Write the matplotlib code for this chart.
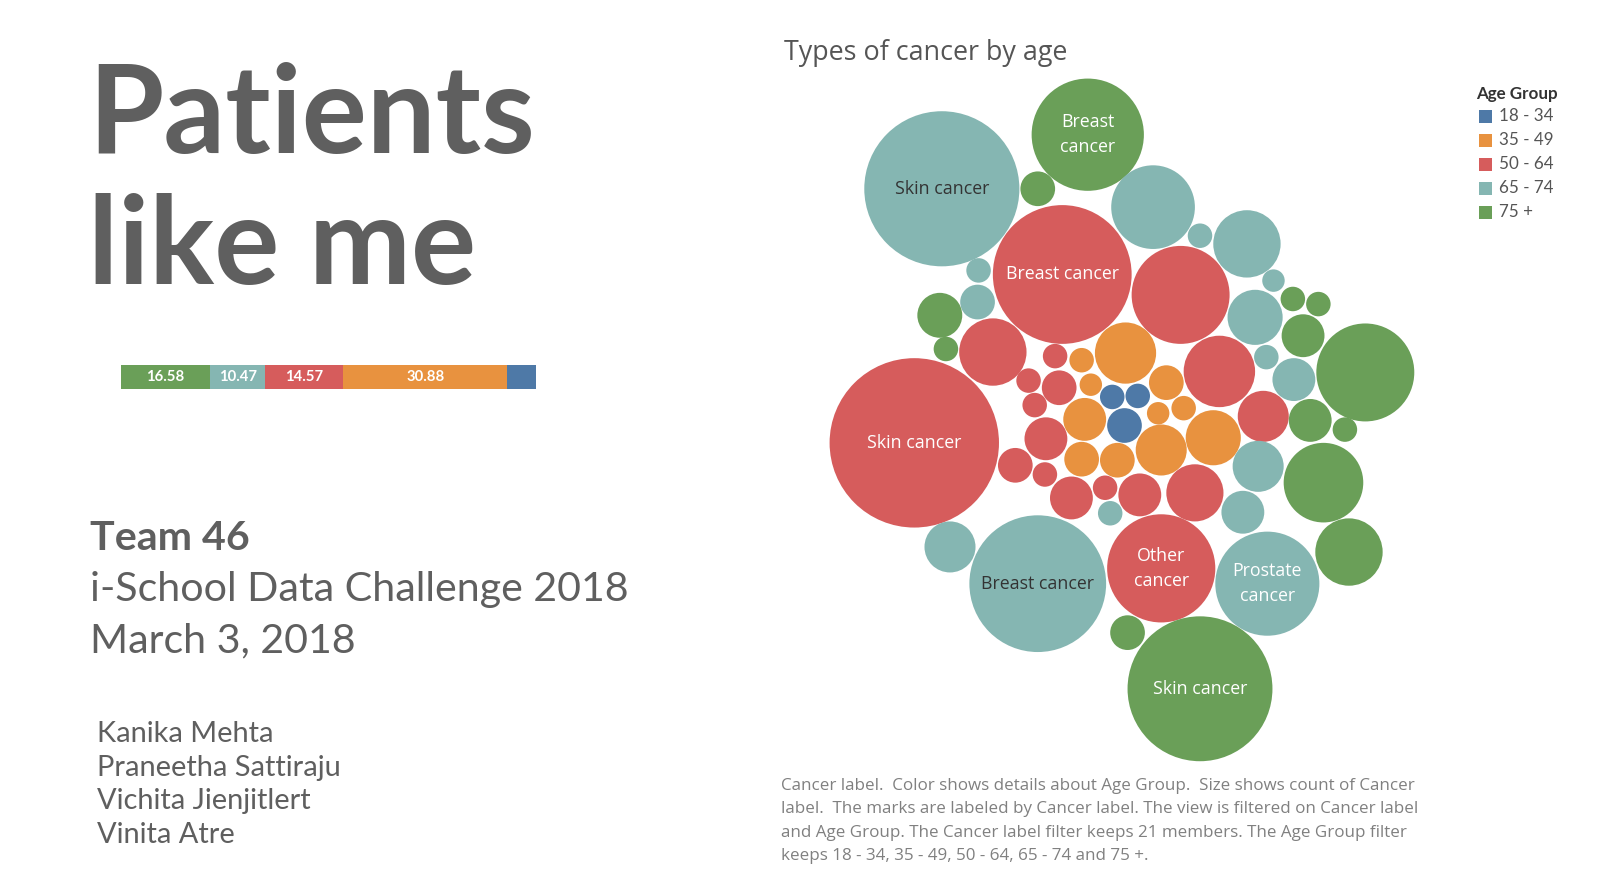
import matplotlib
matplotlib.use("Agg")
import matplotlib.pyplot as plt
from matplotlib.patches import Circle, Rectangle

plt.rcParams['font.family'] = ['Lato', 'DejaVu Sans']

W = 1568
H = W * 894 / 1600
S = 1600 / W
age_groups = ["18 - 34", "35 - 49", "50 - 64", "65 - 74", "75 +"]
colors = {"18 - 34": "#4e79a7", "35 - 49": "#e8923f", "50 - 64": "#d65c5c",
          "65 - 74": "#85b6b2", "75 +": "#6a9f58"}

# summary bar values (left to right)
bar_groups = ["75 +", "65 - 74", "50 - 64", "35 - 49", "18 - 34"]
bar_values = [16.58, 10.47, 14.57, 30.88, 5.3]

# bubbles: age group, size (count), label
bub_group = ["75 +","65 - 74","75 +","65 - 74","65 - 74","65 - 74","50 - 64","50 - 64","65 - 74","65 - 74",
             "75 +","75 +","65 - 74","75 +","75 +","65 - 74","75 +","75 +","50 - 64","35 - 49",
             "50 - 64","65 - 74","65 - 74","50 - 64","35 - 49","50 - 64","50 - 64","35 - 49","18 - 34","18 - 34",
             "35 - 49","50 - 64","35 - 49","35 - 49","18 - 34","35 - 49","50 - 64","50 - 64","75 +","75 +",
             "35 - 49","50 - 64","35 - 49","35 - 49","35 - 49","65 - 74","50 - 64","50 - 64","75 +","50 - 64",
             "50 - 64","50 - 64","50 - 64","65 - 74","65 - 74","65 - 74","75 +","65 - 74","50 - 64","65 - 74",
             "75 +","75 +"]
bub_size = [55,76,17,41,12,33,68,48,12,17,22,12,11,12,12,27,21,48,33,30,35,12,21,12,12,17,12,11,12,12,
            17,12,12,11,17,21,83,25,21,12,27,21,25,17,17,25,17,12,39,12,21,28,21,12,21,25,33,67,53,51,17,71]
bub_label = ["Breast\ncancer","Skin cancer"] + [""]*4 + ["Breast cancer"] + [""]*29 + ["Skin cancer"] + [""]*20 + \
            ["Breast cancer","Other\ncancer","Prostate\ncancer","","Skin cancer"]

# packing layout (centres in pixel space)
layout = [(1066,132),(923,185),(1017,185),(1130,203),(1176,231),(1222,239),(1041,269),(1157,289),(959,265),(958,296),
          (921,309),(927,342),(1248,275),(1267,293),(1292,298),(1230,311),(1277,329),(1338,365),(973,345),(1103,346),
          (1195,364),(1241,350),(1268,372),(1034,349),(1060,353),(1038,380),(1008,373),(1069,377),(1090,389),(1115,388),
          (1143,375),(1014,397),(1160,400),(1135,405),(1102,417),(1063,411),(896,434),(1238,408),(1284,412),(1318,421),
          (1189,429),(1025,430),(1138,441),(1095,451),(1060,450),(1233,457),(995,456),(1024,465),(1297,473),(1083,478),
          (1117,485),(1171,483),(1050,488),(1088,503),(1218,502),(931,536),(1322,541),(1017,572),(1138,557),(1242,572),
          (1105,620),(1176,675)]

fig = plt.figure(figsize=(16, 8.94), dpi=100)
ax = fig.add_axes([0, 0, 1, 1])
ax.set_xlim(0, W); ax.set_ylim(H, 0); ax.axis('off')

gray = "#5f5f5f"
ax.text(86, 150, "Patients", fontsize=86 * S, fontweight='bold', color=gray, va='baseline')
ax.text(86, 278, "like me", fontsize=86 * S, fontweight='bold', color=gray, va='baseline')

ax.text(88, 539, "Team 46", fontsize=29 * S, fontweight='bold', color=gray, va='baseline')
ax.text(88, 589, "i-School Data Challenge 2018", fontsize=29 * S, color=gray, va='baseline')
ax.text(88, 639, "March 3, 2018", fontsize=29 * S, color=gray, va='baseline')
for i, n in enumerate(["Kanika Mehta", "Praneetha Sattiraju", "Vichita Jienjitlert", "Vinita Atre"]):
    ax.text(95, 727 + 33 * i, n, fontsize=20.5 * S, color=gray, va='baseline')

# summary bar
bax = fig.add_axes([119 / W, 1 - 381 / H, (525 - 119) / W, 23 / H])
left = 0
for g, v in zip(bar_groups, bar_values):
    bax.barh(0, v, left=left, color=colors[g], height=1)
    if v > 8:
        bax.text(left + v / 2, 0, f"{v:.2f}", ha='center', va='center', color='white',
                 fontsize=10.5 * S, fontweight='bold')
    left += v
bax.set_xlim(0, left); bax.set_ylim(-0.5, 0.5); bax.axis('off')

ax.text(768, 59, "Types of cancer by age", fontsize=19 * S, color="#555555", va='baseline',
        family=['Open Sans', 'DejaVu Sans'])

for (x, y), r, g, lab in zip(layout, bub_size, bub_group, bub_label):
    ax.add_patch(Circle((x, y), r, color=colors[g], lw=0))
    if lab:
        tc = "#333333" if (g == "65 - 74" and "Prostate" not in lab) else "white"
        ax.text(x, y, lab, ha='center', va='center', color=tc, fontsize=12.5 * S, linespacing=1.5,
                family=['Open Sans', 'DejaVu Sans'])

ax.text(1447, 97, "Age Group", fontsize=12 * S, fontweight='bold', color="#333333", va='baseline')
for i, g in enumerate(age_groups):
    y = 114 + 23.5 * i
    ax.add_patch(Rectangle((1449, y - 6), 13, 13, color=colors[g], lw=0))
    ax.text(1469, y, g, fontsize=12 * S, color="#555555", va='center')

cap = ["Cancer label.  Color shows details about Age Group.  Size shows count of Cancer",
       "label.  The marks are labeled by Cancer label. The view is filtered on Cancer label",
       "and Age Group. The Cancer label filter keeps 21 members. The Age Group filter",
       "keeps 18 - 34, 35 - 49, 50 - 64, 65 - 74 and 75 +."]
for i, c in enumerate(cap):
    ax.text(765, 774 + 23 * i, c, fontsize=12 * S, color="#808080", va='baseline',
            family=['Open Sans', 'DejaVu Sans'])

fig.savefig("out.png", dpi=100, facecolor='white')
